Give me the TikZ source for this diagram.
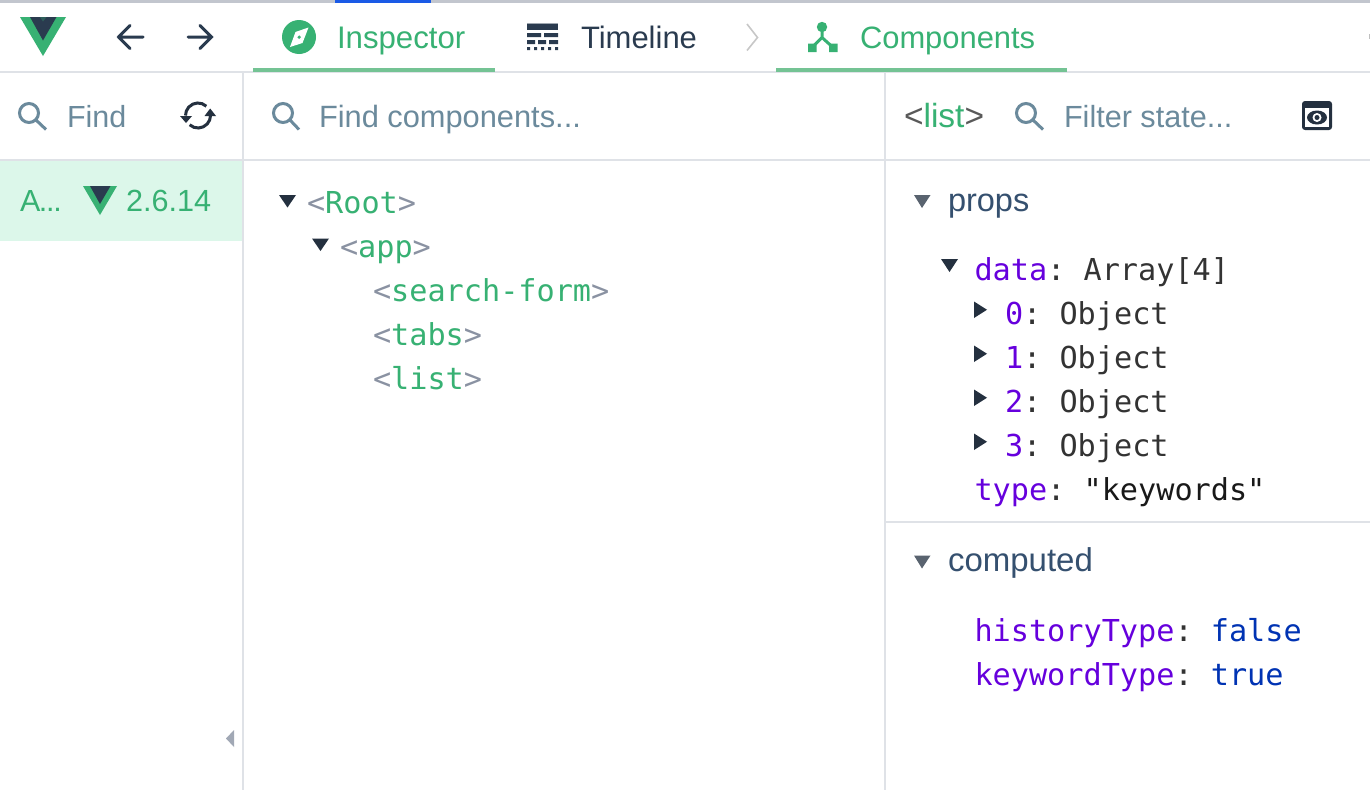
\documentclass[tikz,border=0pt]{standalone}
\usepackage{fontspec}
\setmainfont{Liberation Sans}
\newfontfamily\monof{DejaVu Sans Mono}
\frenchspacing
\definecolor{vgreen}{HTML}{37B173}
\definecolor{vdark}{HTML}{2A3B4F}
\definecolor{tri}{HTML}{24303F}
\definecolor{grayblue}{HTML}{6B8A9C}
\definecolor{angle}{HTML}{8A92A2}
\definecolor{keyp}{HTML}{6600DD}
\definecolor{valb}{HTML}{0033B3}
\definecolor{valk}{HTML}{333333}
\definecolor{rule}{HTML}{DFE2E7}
\definecolor{tabline}{HTML}{74C394}
\definecolor{selrow}{HTML}{DCF7EA}
\definecolor{proptext}{HTML}{35506F}
\definecolor{topstrip}{HTML}{C2C6CE}
\definecolor{topblue}{HTML}{1A5AE6}
\tikzset{
  lab/.style={anchor=base west,inner sep=0pt,outer sep=0pt},
  sanslab/.style={lab,font=\fontsize{#1}{32}\selectfont},
  sanslab/.default=30.8,
  monolab/.style={lab,font=\fontsize{30.2}{32}\monof},
  rulel/.style={draw=rule,line width=2pt},
  searchicon/.style={draw=grayblue,line width=3pt,fill=none},
  navarrow/.style={draw=vdark,line width=3pt,line cap=round,line join=round},
  darktri/.style={fill=tri,draw=none},
  graytri/.style={fill=black!20!vdark!75!white,draw=none},
}
\newcommand{\Mk}[1]{\textcolor{angle}{#1}}
\newcommand{\Gt}[1]{\textcolor{vgreen}{#1}}
\newcommand{\Ky}[1]{\textcolor{keyp}{#1}}
\begin{document}
\begin{tikzpicture}[x=1pt,y=-1pt]
\useasboundingbox (0,0) rectangle (1370,790);
\fill[white] (0,0) rectangle (1370,790);
% top strip
\fill[topstrip] (0,0) rectangle (1370,2.5);
\fill[topblue] (335,0) rectangle (431,2.5);
% selected row
\fill[selrow] (0,161) rectangle (242,241);
% rules
\draw[rulel] (0,72) -- (1370,72);
\draw[rulel] (0,160) -- (1370,160);
\draw[rulel] (243,72) -- (243,790);
\draw[rulel] (885,72) -- (885,790);
\draw[rulel] (885,521.5) -- (1370,521.5);
\fill[tabline] (253,67.5) rectangle (495,71.5);
\fill[tabline] (776,67.5) rectangle (1067,71.5);
% logo
\fill[vgreen] (20,17) -- (66,17) -- (43,56) -- cycle;
\fill[vdark] (30,17) -- (56.5,17) -- (43,40.5) -- cycle;
\fill[vgreen!30!vdark] (40,17) -- (46.5,17) -- (43,21.5) -- cycle;
% nav arrows
\draw[navarrow] (118,37) -- (143,37) (130,25.5) -- (118.5,37) -- (130,48.5);
\draw[navarrow] (188,37) -- (212,37) (200,25.5) -- (211.5,37) -- (200,48.5);
% compass
\fill[vgreen] (299,37) circle (17);
\fill[white] (308.5,27.5) -- (302.5,43) -- (290,47) -- (295.5,32) -- cycle;
\fill[vgreen] (299.2,37.2) circle (1.8);
\node[sanslab=31.2,text=vgreen] (inspector) at (337,48) {Inspector};
% timeline icon
\fill[vdark] (527,24) rectangle (558,30);
\fill[vdark!45!white] (527,23) rectangle (558,24);
\fill[vdark] (527,33) rectangle (541,37) (544,33) rectangle (558,37);
\fill[vdark] (527,40) rectangle (535,44) (538,40) rectangle (546,44) (549,40) rectangle (558,44);
\fill[vdark] (527,47) rectangle (530,50) (534,47) rectangle (537,50) (541,47) rectangle (544,50) (548,47) rectangle (551,50) (555,47) rectangle (558,50);
\node[sanslab=31,text=vdark] (timeline) at (581,48) {Timeline};
\draw[draw=black!22!white,line width=1.6pt] (747,24) -- (757.5,37.5) -- (747,50.5);
% components icon
\fill[vgreen] (822,27) circle (5.2);
\draw[vgreen,line width=3pt] (822,30) -- (822,37.5) -- (812.5,47) (822,37.5) -- (832.5,47);
\fill[vgreen] (808,43.5) rectangle (816.5,52) (829,43.5) rectangle (837.5,52);
\node[sanslab=30.9,text=vgreen] (components) at (860,48) {Components};
\fill[black!25!white] (1368.5,33.5) rectangle (1370,38.5);
% search row
\draw[searchicon] (29,113) circle (9.5) (36,120) -- (46,129.5);
\node[sanslab=30.5,text=grayblue] (findapp) at (67,127) {Find};
\draw[draw=tri,line width=3pt] (198,115.5) ++(-48:12.5) arc (-48:-180:12.5);
\draw[draw=tri,line width=3pt] (198,115.5) ++(132:12.5) arc (132:0:12.5);
\fill[tri] (180,116) -- (192,116) -- (186,123) -- cycle;
\fill[tri] (204.5,116) -- (216,116) -- (210.2,108.5) -- cycle;
\draw[searchicon] (283,113) circle (9.5) (290,120) -- (299,129.5);
\node[sanslab=30.8,text=grayblue] (findcomp) at (319,127) {Find components...};
\node[sanslab=33.5,text=black!65!white] (listhead) at (904,127) {<\Gt{list}>};
\draw[searchicon] (1026,113) circle (9.5) (1033,120) -- (1043,129.5);
\node[sanslab=30.6,text=grayblue] (filter) at (1064,127) {Filter state...};
% eye
\fill[tri,rounded corners=3pt] (1302,101) rectangle (1332,130);
\fill[white] (1305,108) rectangle (1329,127);
\fill[tri] (1317,117.5) ellipse (10 and 7);
\fill[white] (1317,117.5) circle (4.5);
\fill[tri] (1317,117.5) circle (2.5);
% selected app row
\node[sanslab=30.5,text=vgreen] (appname) at (20,211) {A\kern-1.5pt.\kern-1.2pt.\kern-1.2pt.};
\fill[vgreen] (83,186) -- (117,186) -- (100,215) -- cycle;
\fill[vdark] (90,186) -- (110.5,186) -- (100,204) -- cycle;
\node[sanslab=30.6,text=vgreen] (version) at (126,211) {2.6.14};
\fill[angle!80!white] (234,730) -- (234,747) -- (226,738.5) -- cycle;
% tree
\fill[darktri] (279,195) -- (296,195) -- (287.5,207.5) -- cycle;
\node[monolab] (troot) at (307,213) {\Mk{<}\Gt{Root}\Mk{>}};
\fill[darktri] (312,238.5) -- (329,238.5) -- (320.5,251) -- cycle;
\node[monolab] (tapp) at (340,257) {\Mk{<}\Gt{app}\Mk{>}};
\node[monolab] (tsearch) at (373,301) {\Mk{<}\Gt{search-form}\Mk{>}};
\node[monolab] (ttabs) at (373,345) {\Mk{<}\Gt{tabs}\Mk{>}};
\node[monolab] (tlist) at (373,389) {\Mk{<}\Gt{list}\Mk{>}};
% state
\fill[graytri] (914,195) -- (930.5,195) -- (922,208) -- cycle;
\node[sanslab=32.5,text=proptext] (props) at (948,211) {props};
\fill[darktri] (941,259) -- (958,259) -- (949.5,272) -- cycle;
\node[monolab,text=valk] (sdata) at (974.5,280) {\Ky{data}: Array[4]};
\fill[darktri] (974,301.5) -- (974,318) -- (987,309.75) -- cycle;
\node[monolab,text=valk] (s0) at (1005,324) {\Ky{0}: Object};
\fill[darktri] (974,345.5) -- (974,362) -- (987,353.75) -- cycle;
\node[monolab,text=valk] (s1) at (1005,368) {\Ky{1}: Object};
\fill[darktri] (974,389.5) -- (974,406) -- (987,397.75) -- cycle;
\node[monolab,text=valk] (s2) at (1005,412) {\Ky{2}: Object};
\fill[darktri] (974,433.5) -- (974,450) -- (987,441.75) -- cycle;
\node[monolab,text=valk] (s3) at (1005,456) {\Ky{3}: Object};
\node[monolab,text=black!90!white] (stype) at (974.5,500) {\Ky{type}\textcolor{valk}{:} "keywords"};
\fill[graytri] (914,555.5) -- (930.5,555.5) -- (922,568.5) -- cycle;
\node[sanslab=33,text=proptext] (computed) at (948,571) {computed};
\node[monolab,text=valk] (chist) at (974.5,641) {\Ky{historyType}: \textcolor{valb}{false}};
\node[monolab,text=valk] (ckey) at (974.5,685) {\Ky{keywordType}: \textcolor{valb}{true}};
\end{tikzpicture}
\end{document}
